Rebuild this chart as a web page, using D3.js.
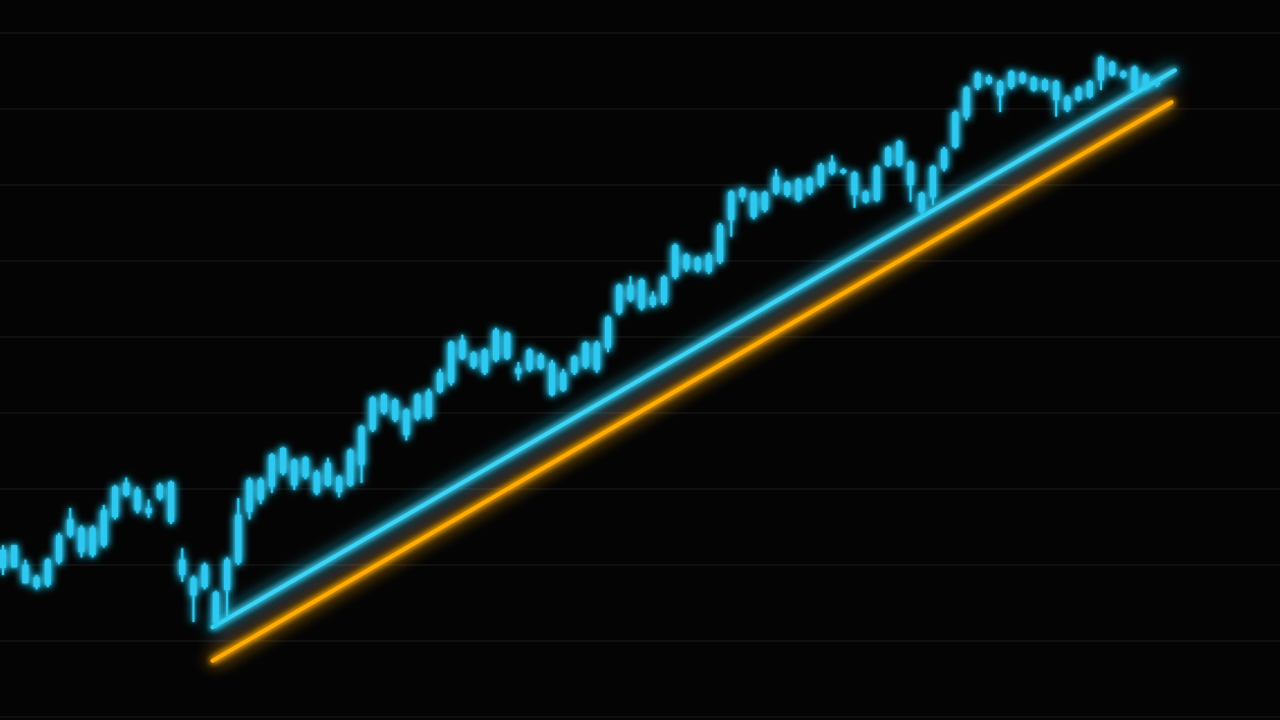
<!DOCTYPE html>
<html>
<head>
<meta charset="utf-8">
<script src="https://cdn.jsdelivr.net/npm/d3@7/dist/d3.min.js"></script>
<style>
  html, body { margin: 0; padding: 0; background: #050505; overflow: hidden; }
  svg { display: block; }
</style>
</head>
<body>
<svg id="chart" width="1280" height="720"></svg>
<script>
// ---- DATA (prices) ----
const opens  = [109.6,109.7,110.0,108.4,107.4,110.4,113.9,114.9,111.3,112.6,116.3,119.2,119.9,117.5,118.8,120.9,110.7,108.3,107.1,106.4,106.7,110.3,117.0,118.6,120.3,122.1,123.8,121.6,122.2,120.5,121.6,120.5,123.2,127.8,132.4,129.1,130.4,129.3,129.5,132.8,134.0,139.6,136.1,138.3,137.0,140.5,135.9,135.7,137.6,132.4,135.3,135.3,136.1,135.7,138.6,143.2,146.8,147.5,145.3,144.5,147.9,149.0,150.4,148.6,149.9,155.4,159.5,159.0,156.7,159.0,160.3,158.0,159.0,160.0,161.6,162.0,161.6,157.8,158.0,162.6,162.6,163.0,158.9,158.4,162.2,165.0,169.0,172.8,174.2,173.6,172.9,173.5,174.1,172.5,173.6,169.9,171.2,171.6,173.8,176.1,174.9,172.5,174.5,173.2];
const closes = [112.0,112.6,107.6,107.1,110.7,113.9,116.0,111.7,114.9,117.2,120.3,120.8,117.2,116.8,120.5,115.7,108.7,106.0,110.0,102.4,110.7,116.6,121.2,121.2,124.5,125.4,120.5,124.1,119.5,123.4,119.6,125.1,128.2,132.0,130.1,131.7,127.1,132.4,132.8,135.3,139.3,137.2,137.9,135.3,140.9,137.2,135.2,138.3,135.9,136.6,133.0,137.4,139.2,139.2,142.6,146.8,144.9,143.8,144.2,147.9,152.1,150.8,148.8,150.8,154.7,159.1,158.4,155.8,159.0,161.1,158.7,160.7,160.9,162.6,163.0,161.6,158.7,159.1,162.4,164.9,165.7,160.0,156.5,162.4,164.7,169.6,172.8,174.7,173.4,171.8,174.9,174.7,172.5,173.8,171.2,171.6,172.8,173.6,176.8,174.5,174.2,175.5,172.8,173.6];
const highs  = [112.6,112.6,110.7,108.7,110.9,114.2,117.5,115.2,115.2,117.9,120.5,121.5,120.3,118.6,120.8,121.1,112.2,108.6,110.3,106.6,111.0,118.8,121.5,121.5,124.7,125.5,124.0,124.3,122.5,124.1,121.8,125.3,128.4,132.2,132.6,131.9,130.6,132.6,133.2,135.8,139.5,140.3,138.1,138.5,141.2,140.7,136.7,138.5,137.9,137.0,135.8,137.6,139.4,139.5,142.8,147.0,148.0,147.7,146.0,148.1,152.3,151.0,150.6,151.1,155.0,159.3,159.7,159.2,159.2,162.1,160.5,160.9,161.1,162.9,163.9,162.2,161.8,159.3,162.6,165.1,165.9,163.2,159.1,162.6,165.0,169.8,173.0,174.9,174.5,173.8,175.1,174.9,174.3,174.0,173.8,171.8,173.0,173.8,177.0,176.3,175.1,175.7,174.7,173.8];
const lows   = [108.7,109.7,107.6,106.8,107.1,110.1,113.6,111.0,111.0,112.3,116.0,119.0,116.8,116.2,118.5,115.4,107.8,102.5,106.8,101.8,103.2,110.0,116.0,118.0,119.5,121.8,119.9,121.3,119.2,120.3,118.9,120.3,120.8,127.5,129.8,128.8,126.4,129.0,129.2,132.6,133.6,137.0,135.8,135.0,136.7,137.0,134.3,135.4,135.7,132.2,132.8,135.0,135.8,135.3,138.0,142.9,144.6,143.5,143.9,144.2,147.6,148.6,148.5,148.3,149.6,153.2,157.8,155.5,156.4,158.7,158.4,157.8,158.7,159.7,161.3,161.4,157.0,157.6,157.8,162.4,162.4,157.8,156.0,157.4,161.8,164.8,168.5,172.5,173.2,169.6,172.6,173.3,172.3,172.3,169.0,169.6,171.0,171.4,172.5,174.3,174.0,172.3,172.5,172.9];

const gridPrices = [90, 100, 110, 120, 130, 140, 150, 160, 170, 180];

// Trend lines: [candle index, price] at both ends
const supportLine = [[18.7, 101.8], [104.6, 175.1]];   // cyan
const lowerLine   = [[18.7, 97.4],  [104.3, 170.9]];   // orange

// ---- SCALES ----
const W = 1280, H = 720;
const x = d3.scaleLinear().domain([0, opens.length - 1]).range([3, 1157]);
const y = d3.scaleLinear().domain([100, 180]).range([641, 33]);

const svg = d3.select("#chart");
svg.append("rect").attr("width", W).attr("height", H).attr("fill", "#040404");

const defs = svg.append("defs");
function glow(id, sd, strength) {
  const f = defs.append("filter").attr("id", id).attr("filterUnits", "userSpaceOnUse")
    .attr("x", 0).attr("y", 0).attr("width", W).attr("height", H);
  f.append("feGaussianBlur").attr("in", "SourceGraphic").attr("stdDeviation", sd).attr("result", "b1");
  f.append("feGaussianBlur").attr("in", "SourceGraphic").attr("stdDeviation", sd * 3).attr("result", "b2");
  const m = f.append("feMerge");
  m.append("feMergeNode").attr("in", "b2");
  m.append("feMergeNode").attr("in", "b2");
  for (let i = 0; i < strength; i++) m.append("feMergeNode").attr("in", "b1");
  m.append("feMergeNode").attr("in", "SourceGraphic");
}
glow("glowCandle", 1.5, 1);
glow("glowLine", 3, 2);

// gridlines
svg.append("g").selectAll("line").data(gridPrices).join("line")
  .attr("x1", 0).attr("x2", W)
  .attr("y1", d => y(d)).attr("y2", d => y(d))
  .attr("stroke", "#101010").attr("stroke-width", 2);

// trend lines
const lineGen = d3.line().x(d => x(d[0])).y(d => y(d[1]));
const lines = svg.append("g").attr("filter", "url(#glowLine)");
lines.append("path").datum(lowerLine).attr("d", lineGen)
  .attr("fill", "none").attr("stroke", "#ffab00").attr("stroke-width", 4).attr("stroke-linecap", "round");
lines.append("path").datum(supportLine).attr("d", lineGen)
  .attr("fill", "none").attr("stroke", "#3cd4f6").attr("stroke-width", 4).attr("stroke-linecap", "round");

// candles
const candles = opens.map((o, i) => ({ i, o, c: closes[i], h: highs[i], l: lows[i] }));
const cg = svg.append("g").attr("filter", "url(#glowCandle)");
const bodyW = 6;
cg.selectAll("line.wick").data(candles).join("line").attr("class", "wick")
  .attr("x1", d => x(d.i)).attr("x2", d => x(d.i))
  .attr("y1", d => y(d.h)).attr("y2", d => y(d.l))
  .attr("stroke", "#2ec9f1").attr("stroke-width", 2);
cg.selectAll("rect.body").data(candles).join("rect").attr("class", "body")
  .attr("x", d => x(d.i) - bodyW / 2)
  .attr("width", bodyW)
  .attr("y", d => y(Math.max(d.o, d.c)))
  .attr("height", d => Math.max(2, Math.abs(y(d.o) - y(d.c))))
  .attr("fill", "#2ec9f1");
</script>
</body>
</html>
